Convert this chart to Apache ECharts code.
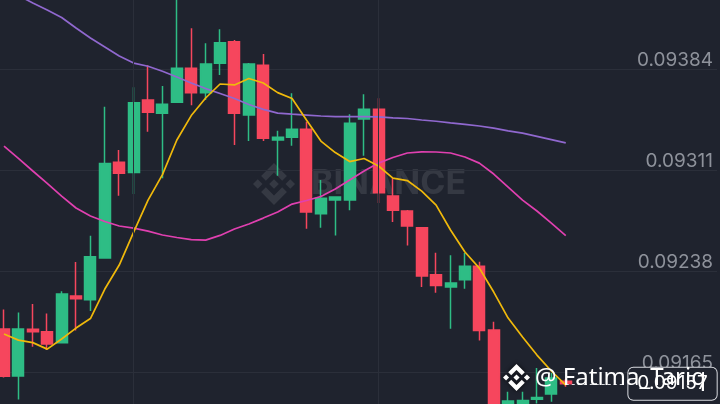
<!DOCTYPE html>
<html><head><meta charset="utf-8">
<script src="https://cdn.jsdelivr.net/npm/echarts@6/dist/echarts.min.js"></script>
<style>html,body{margin:0;padding:0;background:#1f232e;}#c{width:720px;height:404px;}</style>
</head><body><div id="c"></div>
<script>
// ---- data ----
const categories = Array.from({length: 50}, (_, i) => 'K' + (i + 1));
const opens  = [0.091965,0.091626,0.091963,0.091945,0.091866,0.092203,0.092176,0.092478,0.093169,0.093096,0.093618,0.093522,0.093602,0.093847,0.093671,0.093883,0.094039,0.093510,0.093869,0.093329,0.093349,0.093407,0.092797,0.092896,0.092896,0.093481,0.093551,0.092925,0.092817,0.092696,0.092357,0.092268,0.092321,0.092418,0.091958,0.091286,0.091423,0.091459,0.091496,0.091589];
const closes = [0.091625,0.091965,0.091945,0.091857,0.092218,0.092184,0.092487,0.093161,0.093089,0.093599,0.093530,0.093587,0.093847,0.093671,0.093878,0.094032,0.093522,0.093878,0.093342,0.093349,0.093407,0.092810,0.092909,0.092918,0.093450,0.093551,0.092949,0.092822,0.092709,0.092348,0.092280,0.092297,0.092418,0.091955,0.091272,0.091445,0.091449,0.091470,0.091611,0.091570];
const lows   = [0.091616,0.091457,0.091837,0.091813,0.091864,0.091955,0.092095,0.092474,0.092927,0.092940,0.093389,0.093053,0.093597,0.093580,0.093618,0.093799,0.093293,0.093322,0.093322,0.093072,0.093288,0.092689,0.092696,0.092641,0.092822,0.093216,0.092875,0.092737,0.092569,0.092268,0.092227,0.091967,0.092256,0.091883,0.091221,0.091235,0.091380,0.091427,0.091440,0.091548];
const highs  = [0.092107,0.092085,0.092145,0.092078,0.092237,0.092449,0.092639,0.093570,0.093257,0.093710,0.093869,0.093719,0.094398,0.094136,0.094028,0.094129,0.094052,0.093885,0.093950,0.093397,0.093667,0.093462,0.093041,0.092922,0.093515,0.093660,0.093631,0.093053,0.092824,0.092701,0.092516,0.092497,0.092514,0.092451,0.092018,0.091512,0.091512,0.091683,0.091647,0.091604];
const ma7  = [0.091929,0.091885,0.091867,0.091820,0.091893,0.091972,0.092041,0.092254,0.092427,0.092665,0.092896,0.093080,0.093330,0.093506,0.093633,0.093734,0.093727,0.093774,0.093741,0.093672,0.093629,0.093474,0.093322,0.093239,0.093174,0.093196,0.093142,0.093055,0.093037,0.092961,0.092860,0.092680,0.092521,0.092405,0.092232,0.092044,0.091907,0.091777,0.091662,0.091560];
const ma25 = [0.093286,0.093197,0.093106,0.093016,0.092925,0.092839,0.092781,0.092741,0.092709,0.092694,0.092672,0.092644,0.092626,0.092611,0.092607,0.092641,0.092687,0.092723,0.092766,0.092810,0.092867,0.092893,0.092922,0.092976,0.093041,0.093106,0.093163,0.093203,0.093236,0.093244,0.093243,0.093236,0.093207,0.093163,0.093084,0.092990,0.092896,0.092817,0.092730,0.092640];
const ma99 = [0.094434,0.094373,0.094319,0.094268,0.094214,0.094138,0.094066,0.094001,0.093936,0.093885,0.093862,0.093826,0.093784,0.093741,0.093701,0.093665,0.093629,0.093586,0.093551,0.093524,0.093516,0.093510,0.093503,0.093499,0.093498,0.093498,0.093496,0.093490,0.093485,0.093474,0.093465,0.093453,0.093442,0.093431,0.093415,0.093396,0.093379,0.093356,0.093333,0.093309];
const yTicks = [0.09165, 0.09238, 0.09311, 0.09384];
const lastPrice = 0.09157;
const vGridCats = ['K10', 'K27'];

// ---- derived ----
const yStep = +(yTicks[1] - yTicks[0]).toFixed(5);
const yMin = +(yTicks[0] - yStep).toFixed(5);
const yMax = +(yTicks[yTicks.length - 1] + yStep).toFixed(5);
const kData = opens.map((o, i) => [o, closes[i], lows[i], highs[i]]);
const lastIdx = opens.length - 1;

const BG = '#1f232e', GRID = '#2b2f3a';
const UP = '#2ebd85', DOWN = '#f6465d';

const logoPolys = [
  [[38.73,53.2],[63.31,28.63],[87.9,53.22],[102.2,38.92],[63.31,0],[24.42,38.9]],
  [[0,63.31],[14.3,49.01],[28.6,63.31],[14.3,77.61]],
  [[38.73,73.41],[63.31,97.99],[87.9,73.4],[102.21,87.69],[63.31,126.61],[24.42,87.72]],
  [[98.01,63.31],[112.31,49.01],[126.61,63.31],[112.31,77.61]],
  [[77.81,63.31],[63.31,48.81],[48.81,63.31],[63.31,77.81]]
];
function logo(cx, cy, size, fill, z, shadow) {
  const s = size / 126.61;
  return {
    type: 'group', x: cx - size / 2, y: cy - size / 2, silent: true,
    children: logoPolys.map(p => ({
      type: 'polygon', z: z, silent: true,
      shape: { points: p.map(([a, b]) => [a * s, b * s]) },
      style: Object.assign({ fill: fill }, shadow ? { shadowBlur: 4, shadowColor: 'rgba(0,0,0,0.8)' } : {})
    }))
  };
}

const chart = echarts.init(document.getElementById('c'), null, { renderer: 'canvas' });
chart.setOption({
  backgroundColor: BG,
  animation: false,
  grid: { left: -3.2, right: 3, top: -31.8, bottom: -69.8, containLabel: false, outerBoundsMode: 'none' },
  xAxis: {
    type: 'category', data: categories, boundaryGap: true,
    axisLine: { show: false }, axisTick: { show: false }, axisLabel: { show: false }, splitLine: { show: false }
  },
  yAxis: {
    type: 'value', position: 'right', min: yMin, max: yMax, interval: yStep,
    axisLine: { show: false }, axisTick: { show: false },
    splitLine: { show: true, lineStyle: { color: GRID, width: 1 } },
    axisLabel: {
      inside: true, margin: 4, color: '#8e929b', fontSize: 19, fontFamily: 'Inter',
      verticalAlign: 'bottom', lineHeight: 19,
      formatter: v => v.toFixed(5)
    }
  },
  graphic: [
    logo(274, 184, 42, 'rgba(255,255,255,0.1)', 0, false),
    { type: 'text', z: 0, silent: true, style: { text: 'BINANCE', x: 311, y: 184, font: 'bold 34px Inter', fill: 'rgba(255,255,255,0.1)', textAlign: 'left', textVerticalAlign: 'middle' } },
    logo(516.5, 377.5, 27, '#ffffff', 100, true),
    { type: 'text', z: 100, silent: true, style: { text: '@ Fatima_Tariq', x: 535, y: 378, font: '24px "Noto Sans"', fill: '#ffffff', textAlign: 'left', textVerticalAlign: 'middle', shadowBlur: 4, shadowColor: 'rgba(0,0,0,0.8)' } }
  ],
  series: [
    {
      type: 'line', data: [], z: 1, silent: true,
      markLine: {
        silent: true, symbol: 'none', label: { show: false },
        lineStyle: { color: GRID, type: 'solid', width: 1 },
        data: vGridCats.map(c => ({ xAxis: c }))
      }
    },
    {
      type: 'candlestick', data: kData, z: 2, barWidth: 11.5,
      itemStyle: { color: UP, color0: DOWN, borderColor: UP, borderColor0: DOWN, borderWidth: 1.5 },
      markLine: {
        silent: true, symbol: 'none',
        lineStyle: { color: '#d5d7db', type: [3, 3], width: 1 },
        label: {
          show: true, position: 'end', distance: 5,
          formatter: () => lastPrice.toFixed(5),
          color: '#ffffff', fontSize: 19, fontFamily: 'Inter', lineHeight: 20,
          backgroundColor: BG, borderColor: '#d9dbe0', borderWidth: 1, borderRadius: 5,
          padding: [6, 9, 6, 9]
        },
        data: [[{ coord: [lastIdx, lastPrice] }, { coord: [lastIdx + 4, lastPrice] }]]
      }
    },
    { type: 'line', data: ma99, z: 3, showSymbol: false, silent: true, lineStyle: { color: '#9068cf', width: 1.7 } },
    { type: 'line', data: ma25, z: 3, showSymbol: false, silent: true, lineStyle: { color: '#e040b0', width: 1.7 } },
    { type: 'line', data: ma7,  z: 3, showSymbol: false, silent: true, lineStyle: { color: '#f0b90b', width: 1.7 } }
  ]
});
</script></body></html>
